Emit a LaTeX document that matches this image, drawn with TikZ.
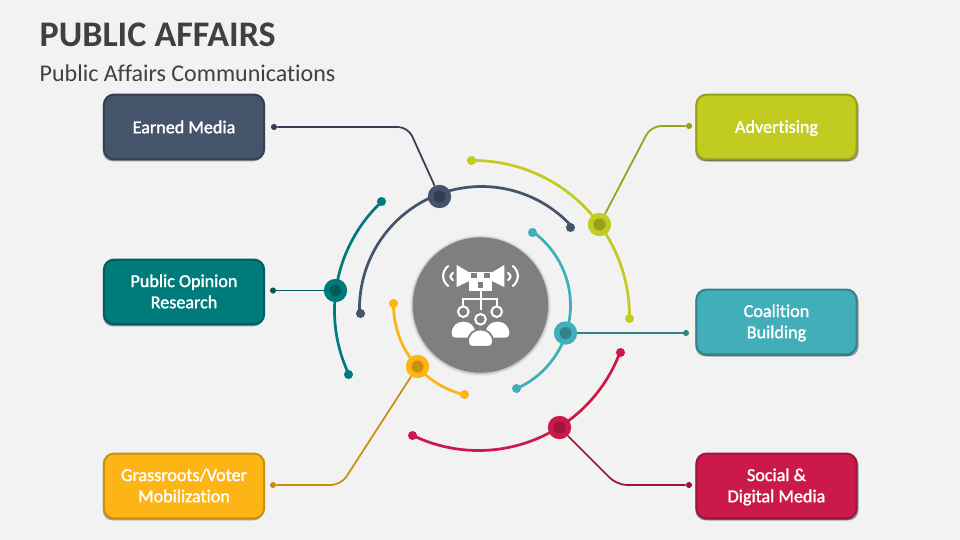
\documentclass[tikz,border=0pt]{standalone}
\usepackage{fontspec}
\setmainfont{Carlito}[RawFeature=-liga]
\newfontfamily\labfont{Carlito}[RawFeature=-liga,FakeBold=1.6]
\usetikzlibrary{shadows}
\definecolor{bgc}{HTML}{F2F2F2}
\definecolor{inkc}{HTML}{404040}
\definecolor{navyc}{HTML}{44546A}\definecolor{navyd}{HTML}{333F50}
\definecolor{tealc}{HTML}{007B7C}\definecolor{teald}{HTML}{005C5D}
\definecolor{yelc}{HTML}{FDB415}\definecolor{yeld}{HTML}{C98F0F}
\definecolor{olic}{HTML}{C2CB20}\definecolor{olid}{HTML}{9A9F18}
\definecolor{aquc}{HTML}{41AEB9}\definecolor{aqud}{HTML}{31838B}
\definecolor{crmc}{HTML}{CB1A4A}\definecolor{crmd}{HTML}{9E143A}
\definecolor{iconbg}{HTML}{7F7F7F}
\tikzset{
  boxL/.style={rectangle,rounded corners=7.5bp,minimum width=120.2bp,minimum height=48.6bp,line width=1.5bp,
    text=white,align=center,font=\fontsize{13.6bp}{15.9bp}\labfont,inner sep=0pt,
    drop shadow={shadow xshift=-0.8bp,shadow yshift=-1.5bp,opacity=.35,fill=black}},
  boxR/.style={boxL,drop shadow={shadow xshift=1.5bp,shadow yshift=-1.5bp,opacity=.35,fill=black}},
  arcline/.style={line width=2.05bp},
  lead/.style={line width=1.3bp,rounded corners=7.5bp},
  enddot/.style={circle,minimum size=6.8bp,inner sep=0pt},
  hub/.style={circle,minimum size=17.5bp,inner sep=0pt},
  hubin/.style={circle,minimum size=9bp,inner sep=0pt},
  tail/.style={circle,minimum size=4.6bp,inner sep=0pt},
  icon/.style={fill=white,draw=none},
  iconl/.style={draw=white,line width=1.5bp,fill=none},
  wave/.style={draw=white,line width=1.6bp,line cap=round,fill=none}
}
\newcommand{\ringarc}[6]{\draw[arcline,#1] plot[domain=#5:#6,samples=90] ({#2+#4*cos(\x)},{#3+#4*sin(\x)});}
\newcommand{\lastl}[1]{\raisebox{0pt}[\height][1bp]{#1}}
\begin{document}
\begin{tikzpicture}[x=0.75bp,y=-0.75bp]
\fill[bgc] (0,0) rectangle (960,540);
\useasboundingbox (0,0) rectangle (960,540);

\node[anchor=base west,text=inkc,inner sep=0pt,font=\fontsize{27bp}{30bp}\selectfont\bfseries] (title) at (39.4,46) {PUBLIC AFFAIRS};
\node[anchor=base west,text=inkc,inner sep=0pt,font=\fontsize{18bp}{22bp}\selectfont] (sub) at (39.4,81) {Public Affairs Communications};

% boxes
\node[boxL,fill=navyc,draw=navyd] (b1) at (184,127) {Earned Media};
\node[boxL,fill=tealc,draw=teald] (b2) at (184,292) {Public Opinion\\\lastl{Research}};
\node[boxL,fill=yelc,draw=yeld] (b3) at (184,486) {Grassroots/Voter\\\lastl{Mobilization}};
\node[boxR,fill=olic,draw=olid] (b4) at (776.5,127) {\vphantom{E}\smash{Advertising}};
\node[boxR,fill=aquc,draw=aqud] (b5) at (776.5,322) {Coalition\\\lastl{Building}};
\node[boxR,fill=crmc,draw=crmd] (b6) at (776.5,486) {Social \&\\\lastl{Digital Media}};

% arcs
\ringarc{navyc}{481.5}{308.5}{122}{177.6}{317.7}
\ringarc{olic}{473.5}{316.5}{156}{269.3}{360.7}
\ringarc{tealc}{483.5}{310.5}{149}{154.6}{226.9}
\ringarc{aquc}{479.5}{305.5}{91}{-54}{66}
\ringarc{yelc}{486.5}{304.5}{93}{103.7}{180.6}
\ringarc{crmc}{478.5}{299.5}{151}{20.5}{115.9}

% arc end dots
\node[enddot,fill=navyc] (n1) at (360.5,313.5) {};
\node[enddot,fill=navyc] (n2) at (570.5,227.5) {};
\node[enddot,fill=olic] (o1) at (471.5,160.5) {};
\node[enddot,fill=olic] (o2) at (629.5,318.5) {};
\node[enddot,fill=tealc] (t1) at (381.5,201.5) {};
\node[enddot,fill=tealc] (t2) at (348.5,374.5) {};
\node[enddot,fill=aquc] (a1) at (532.5,232.5) {};
\node[enddot,fill=aquc] (a2) at (516.5,388.5) {};
\node[enddot,fill=yelc] (y1) at (393.5,303.5) {};
\node[enddot,fill=yelc] (y2) at (464.5,394.5) {};
\node[enddot,fill=crmc] (c1) at (620.5,352.5) {};
\node[enddot,fill=crmc] (c2) at (412.5,435.5) {};

% hubs
\node[hub,fill=navyc] (h1) at (439.5,196.5) {};
\node[hub,fill=tealc] (h2) at (335.5,290.5) {};
\node[hub,fill=yelc] (h3) at (417.5,366.5) {};
\node[hub,fill=olic] (h4) at (599.5,224.5) {};
\node[hub,fill=aquc] (h5) at (565.5,333) {};
\node[hub,fill=crmc] (h6) at (559.5,427.5) {};
\node[hubin,fill=navyd] at (h1) {};
\node[hubin,fill=teald] at (h2) {};
\node[hubin,fill=yeld] at (h3) {};
\node[hubin,fill=olid] at (h4) {};
\node[hubin,fill=aqud] at (h5) {};
\node[hubin,fill=crmd] at (h6) {};

% leaders
\node[tail,fill=navyd] (l1) at (274,127) {};
\node[tail,fill=teald] (l2) at (273,290.5) {};
\node[tail,fill=yeld] (l3) at (273,485) {};
\node[tail,fill=olid] (l4) at (689,126) {};
\node[tail,fill=aqud] (l5) at (686,333) {};
\node[tail,fill=crmd] (l6) at (689,485) {};
\coordinate (k1) at (408,127);
\coordinate (k3) at (341,485);
\coordinate (k4) at (651,126);
\coordinate (k6) at (617,485);
\draw[lead,navyd] (l1) -- (k1) -- (h1);
\draw[lead,teald] (l2) -- (h2);
\draw[lead,yeld] (l3) -- (k3) -- (h3);
\draw[lead,olid] (l4) -- (k4) -- (h4);
\draw[lead,aqud] (l5) -- (h5);
\draw[lead,crmd] (l6) -- (k6) -- (h6);

% central disc
\foreach \rr/\op in {70.5/.04,69.5/.07,68.5/.10}{\fill[black,opacity=\op] (480.5,305.5) circle[radius=\rr*0.75bp];}
\node[circle,fill=iconbg,minimum size=101.5bp,inner sep=0pt] (core) at (480.5,305) {};

% icon: horns and body
\fill[icon] (456.7,265) -- (469.3,272.5) -- (469.3,281) -- (456.7,287) -- cycle;
\fill[icon] (504.3,265) -- (491.7,272.5) -- (491.7,281) -- (504.3,287) -- cycle;
\fill[icon] (469,271.7) rectangle (492,290.5);
\fill[iconbg] (471,273.3) rectangle (477.3,278.3);
\fill[iconbg] (484,273.3) rectangle (490.3,278.3);
\fill[iconbg] (478,281.7) rectangle (483,288);
% icon: waves
\draw[wave] (448,266) .. controls (441.5,272) and (441.5,280) .. (448,286);
\draw[wave] (453,273) .. controls (449.7,275) and (449.7,278) .. (453,280);
\draw[wave] (513,266) .. controls (519.5,272) and (519.5,280) .. (513,286);
\draw[wave] (508,273) .. controls (511.3,275) and (511.3,278) .. (508,280);
% icon: tree
\draw[iconl] (480.5,289) -- (480.5,310);
\draw[iconl] (463.3,306) -- (463.3,299.3) -- (497,299.3) -- (497,306);
% icon: heads
\draw[iconl] (463.3,311.7) circle[radius=5.3*0.75bp];
\draw[iconl] (496.7,311.7) circle[radius=5.3*0.75bp];
\draw[iconl] (480.5,319.3) circle[radius=5.3*0.75bp];
% icon: people
\fill[icon] (451.7,333.5) .. controls (451.7,326) and (457,321.7) .. (463.5,321.7) .. controls (470,321.7) and (475.3,326) .. (475.3,333.5) .. controls (475.3,336) and (474,337.5) .. (472,337.5) -- (455,337.5) .. controls (453,337.5) and (451.7,336) .. (451.7,333.5) -- cycle;
\fill[icon] (485.7,333.5) .. controls (485.7,326) and (491,321.7) .. (497.5,321.7) .. controls (504,321.7) and (509.3,326) .. (509.3,333.5) .. controls (509.3,336) and (508,337.5) .. (506,337.5) -- (489,337.5) .. controls (487,337.5) and (485.7,336) .. (485.7,333.5) -- cycle;
\filldraw[fill=white,draw=iconbg,line width=1.3bp] (468,342) .. controls (468,334) and (473.5,329.5) .. (480.5,329.5) .. controls (487.5,329.5) and (493,334) .. (493,342) .. controls (493,345) and (491,346.7) .. (489,346.7) -- (472,346.7) .. controls (470,346.7) and (468,345) .. (468,342) -- cycle;
\end{tikzpicture}
\end{document}
